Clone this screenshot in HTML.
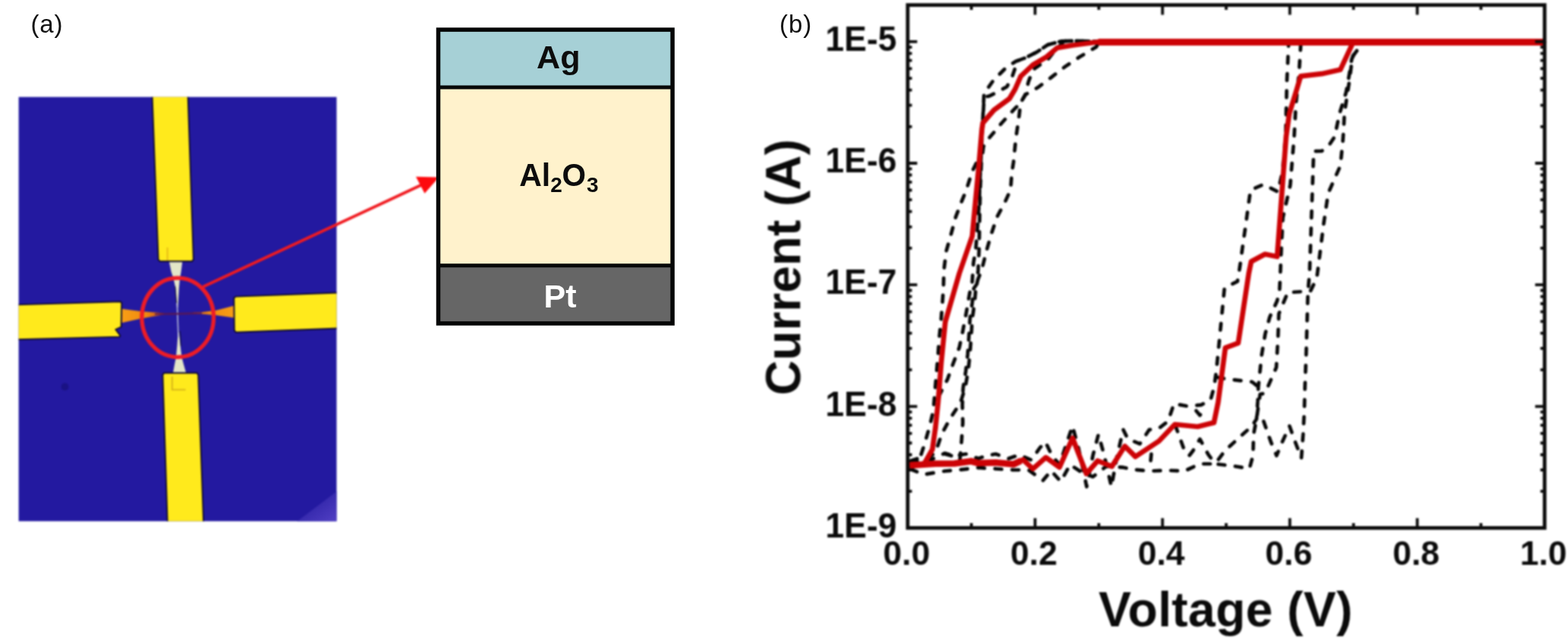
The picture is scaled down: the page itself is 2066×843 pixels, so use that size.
<!DOCTYPE html>
<html lang="en"><head><meta charset="utf-8"><title>Figure</title>
<style>html,body{margin:0;padding:0;background:#fff;}body{width:2066px;height:843px;overflow:hidden;}svg{display:block;}text{font-family:"Liberation Sans",Arial,Helvetica,sans-serif;}.b{font-weight:bold;}</style></head><body>
<svg width="2066" height="843" viewBox="0 0 2066 843">
<defs>
<filter id="bl1" x="-5%" y="-5%" width="110%" height="110%" color-interpolation-filters="sRGB"><feGaussianBlur stdDeviation="0.6"/></filter>
<filter id="bl2" x="-5%" y="-5%" width="110%" height="110%" color-interpolation-filters="sRGB"><feGaussianBlur stdDeviation="0.9"/></filter>
<filter id="bl4" x="-5%" y="-5%" width="110%" height="110%" color-interpolation-filters="sRGB"><feGaussianBlur stdDeviation="0.6"/></filter>
<filter id="bl5" x="-5%" y="-5%" width="110%" height="110%" color-interpolation-filters="sRGB"><feGaussianBlur stdDeviation="0.8"/></filter>
<filter id="bl3" x="-20%" y="-20%" width="140%" height="140%" color-interpolation-filters="sRGB"><feGaussianBlur stdDeviation="2.5"/></filter>
<clipPath id="pc"><rect x="24.6" y="127.8" width="418.9" height="558.6"/></clipPath>
<linearGradient id="wl" x1="0" x2="1" y1="0" y2="0"><stop offset="0" stop-color="#f8a016"/><stop offset="0.6" stop-color="#f08a10"/><stop offset="0.85" stop-color="#d0601a"/><stop offset="1" stop-color="#8a2a3a"/></linearGradient>
<linearGradient id="wr" x1="1" x2="0" y1="0" y2="0"><stop offset="0" stop-color="#f8a016"/><stop offset="0.6" stop-color="#f08a10"/><stop offset="0.85" stop-color="#d0601a"/><stop offset="1" stop-color="#8a2a3a"/></linearGradient>
<linearGradient id="cg" x1="0" x2="1" y1="0" y2="1"><stop offset="0.3" stop-color="#2d22a6"/><stop offset="1" stop-color="#5240c4"/></linearGradient>
</defs>
<rect width="2066" height="843" fill="#ffffff"/>
<text x="40.4" y="43" font-size="33" letter-spacing="0.9" fill="#111">(a)</text>
<text x="1027" y="43" font-size="33" letter-spacing="0.9" fill="#111">(b)</text>
<g filter="url(#bl5)">
<g clip-path="url(#pc)">
<rect x="20" y="120" width="430" height="575" fill="#2319a0"/>
<g filter="url(#bl1)">
<polygon points="391,687 444,647 444,687" fill="url(#cg)"/>
<circle cx="85.5" cy="509.5" r="5" fill="#1a1284" />
<polygon points="222.5,343 240.5,343 238.6,358 237,367 235.8,380 234.4,405 233,405 231.4,380 228.6,367 225.6,358" fill="#e3e6c8"/>
<polygon points="227.8,492 245.4,492 242,480 239.4,470 237.6,455 235.8,438 234.6,438 233.4,455 232,470 230,480" fill="#e3e6c8"/>
<line x1="233.4" y1="400" x2="235" y2="444" stroke="#b9bcd8" stroke-width="1.6"/>
<polygon points="158,406.6 158,425.8 185,419.8 205,416.2 216,414.6 216,412.6 205,411.6 185,410" fill="url(#wl)"/>
<polygon points="310,402.3 310,418.8 285,415.2 265,413.6 254,413.4 254,411.6 265,411.2 285,408.8" fill="url(#wr)"/>
<path d="M204,413.7 L233,413.4 L266,412.5" stroke="#5a1850" stroke-width="2.6" fill="none" opacity="0.85"/>
<path d="M230.6,377 L232.6,399 M237.2,436 L238.6,456" stroke="#0c0c30" stroke-width="1.3" fill="none" opacity="0.8"/>
<polygon points="200.3,120 247.4,120 254.9,342 252.8,344.3 210.8,344.3 208.6,342" fill="#ffea1c" stroke="#0e0830" stroke-width="1.9" stroke-linejoin="round"/>
<polygon points="214.4,493.6 216.3,491.2 259.3,491.2 261.2,493.6 268.6,700 221,700" fill="#ffea1c" stroke="#0e0830" stroke-width="1.9" stroke-linejoin="round"/>
<polygon points="15,401.6 158.5,397.2 160.3,399 159.7,430.5 152.3,434 158.3,442 157.5,443.6 15,447.4" fill="#ffea1c" stroke="#0e0830" stroke-width="1.9" stroke-linejoin="round"/>
<polygon points="308.3,392.5 310.5,390.6 455,385.2 455,432.2 311,437.7 308.8,435.5" fill="#ffea1c" stroke="#0e0830" stroke-width="1.9" stroke-linejoin="round"/>
<path d="M220.6,326 V343" stroke="#d9a514" stroke-width="1.8" fill="none" opacity="0.75"/>
<path d="M226.8,496 V513.4 H244.5" stroke="#c9a416" stroke-width="1.8" fill="none" opacity="0.8"/>
</g>
</g>
</g>
<g filter="url(#bl5)">
<ellipse cx="234.2" cy="418.2" rx="47.3" ry="52.1" fill="none" stroke="#ee1c25" stroke-width="5.3"/>
<line x1="267.5" y1="377.7" x2="556" y2="243.3" stroke="#f01a20" stroke-width="3.9"/>
<polygon points="578.3,233.4 548,232.7 559.5,254.8" fill="#fd0a0e"/>
</g>
<g filter="url(#bl4)">
<rect x="577.5" y="39.1" width="308.5" height="75.6" fill="#a6d0d6"/>
<rect x="577.5" y="114.7" width="308.5" height="235.4" fill="#fff2cc"/>
<rect x="577.5" y="350.1" width="308.5" height="75.9" fill="#666666"/>
<rect x="577.5" y="39.1" width="308.6" height="386.9" fill="none" stroke="#050606" stroke-width="5.5"/>
<line x1="577.5" y1="114.9" x2="886" y2="114.9" stroke="#070808" stroke-width="5"/>
<line x1="577.5" y1="349.7" x2="886" y2="349.7" stroke="#070808" stroke-width="5"/>
<text class="b" x="735.8" y="89.6" font-size="42.5" text-anchor="middle" fill="#0d0d0d" textLength="57.5" lengthAdjust="spacingAndGlyphs">Ag</text>
<text class="b" font-size="42" fill="#0d0d0d"><tspan x="684.2" y="244.8" textLength="41" lengthAdjust="spacingAndGlyphs">Al</tspan><tspan x="725.2" y="253.2" font-size="27.5" textLength="15.6" lengthAdjust="spacingAndGlyphs">2</tspan><tspan x="740.6" y="244.8" textLength="31.5" lengthAdjust="spacingAndGlyphs">O</tspan><tspan x="773" y="253.2" font-size="27.5" textLength="15.6" lengthAdjust="spacingAndGlyphs">3</tspan></text>
<text class="b" x="738" y="405.2" font-size="42.5" text-anchor="middle" fill="#ffffff" textLength="43" lengthAdjust="spacingAndGlyphs">Pt</text>
</g>
<g filter="url(#bl2)">
<path d="M1198.0,612.0 L1211.0,606.4 L1217.3,587.7 L1225.0,561.3 L1229.7,541.0 L1236.0,467.0 L1237.5,445.3 L1239.8,423.5 L1241.4,403.3 L1243.0,381.0 L1243.7,355.7 L1246.8,330.8 L1253.0,309.0 L1259.3,285.7 L1267.0,265.5 L1273.3,250.0 L1281.0,225.7 L1285.7,216.4 L1290.5,205.0 L1294.5,170.0 L1295.0,155.7 L1296.6,121.6 L1298.1,121.2 L1309.0,105.7 L1326.1,88.6 L1338.5,80.8 L1351.0,76.2 L1366.5,68.4 L1380.5,59.0 L1397.6,54.4 L1413.0,53.8 L1446.3,54.7" fill="none" stroke="#050505" stroke-width="4.7" stroke-dasharray="8.8 13.8" stroke-linecap="round" stroke-linejoin="round"/>
<path d="M1200.0,614.0 L1225.0,609.0 L1232.0,575.0 L1235.0,540.0 L1238.0,520.0 L1248.4,499.7 L1256.2,478.0 L1264.0,457.7 L1268.6,436.0 L1273.3,411.1 L1277.9,384.7 L1281.0,371.0 L1282.6,346.4 L1285.7,327.7 L1287.2,309.0 L1288.8,287.3 L1290.4,262.4 L1291.0,240.0 L1294.0,180.0 L1296.6,128.0 L1304.3,126.2 L1312.0,122.3 L1326.7,114.3 L1334.0,100.0 L1337.4,90.0 L1338.5,80.8 L1351.0,76.2 L1366.5,68.4 L1380.5,59.0 L1397.6,54.4 L1413.0,53.8 L1446.3,54.7" fill="none" stroke="#050505" stroke-width="4.7" stroke-dasharray="8.8 13.8" stroke-linecap="round" stroke-linejoin="round"/>
<path d="M1200.0,610.0 L1225.0,602.0 L1232.8,595.5 L1240.6,572.2 L1251.5,552.0 L1265.5,530.2 L1271.7,511.0 L1275.6,488.8 L1277.9,467.0 L1279.5,445.3 L1281.0,420.4 L1284.1,398.7 L1285.7,380.0 L1288.5,368.0 L1293.5,355.7 L1299.7,330.8 L1305.9,309.0 L1313.7,285.7 L1324.5,265.5 L1331.5,250.0 L1333.1,228.8 L1335.4,213.3 L1338.5,182.2 L1342.4,155.7 L1344.7,135.5 L1351.0,124.7 L1355.0,108.0 L1361.0,92.0 L1372.0,84.0 L1381.0,78.0 L1392.0,64.0 L1400.0,57.0" fill="none" stroke="#050505" stroke-width="4.7" stroke-dasharray="8.8 13.8" stroke-linecap="round" stroke-linejoin="round"/>
<path d="M1245.0,598.0 L1256.0,601.0 L1264.7,606.4 L1267.0,580.0 L1268.6,556.6 L1268.0,533.0 L1269.0,511.0 L1272.5,488.8 L1275.0,467.0 L1276.5,445.3 L1278.0,420.4 L1281.0,398.7 L1283.0,380.0 L1287.2,374.0 L1288.8,355.7 L1290.0,330.0 L1290.5,300.0 L1291.5,250.0 L1293.0,215.0 L1295.8,193.0 L1299.7,186.8 L1304.3,180.6 L1319.9,162.0 L1335.4,144.9 L1344.7,135.5 L1351.0,124.7 L1367.3,115.3 L1384.4,102.5 L1403.6,87.6 L1422.8,74.8 L1444.2,62.0 L1448.0,56.0" fill="none" stroke="#050505" stroke-width="4.7" stroke-dasharray="8.8 13.8" stroke-linecap="round" stroke-linejoin="round"/>
<path d="M1200.0,607.0 L1215.0,602.0 L1228.0,605.0 L1245.0,597.0 L1256.0,600.5 L1273.0,598.0 L1289.0,604.0 L1300.0,600.0 L1312.0,598.0 L1329.0,604.0 L1343.0,599.0 L1359.0,606.0 L1370.0,590.0 L1377.4,582.0 L1386.0,600.0 L1396.0,612.0 L1405.0,585.0 L1413.1,561.3 L1421.0,590.0 L1431.8,641.0 L1440.0,600.0 L1447.3,572.2 L1455.0,600.0 L1464.4,641.0 L1472.0,600.0 L1480.0,566.0 L1486.0,578.0 L1501.8,584.6 L1514.2,566.0 L1526.6,564.4 L1539.0,555.0 L1543.7,541.0 L1546.8,531.8 L1564.0,534.9 L1582.6,533.3 L1595.0,527.0 L1599.7,510.0 L1602.7,488.0 L1606.0,455.0 L1609.0,424.0 L1613.4,379.0 L1630.5,370.7 L1633.7,351.0 L1637.0,327.0 L1641.2,297.5 L1647.6,250.5 L1664.7,243.0 L1683.9,252.6 L1690.0,225.0 L1694.0,180.0 L1694.6,150.0 L1695.6,107.0 L1697.8,60.0" fill="none" stroke="#050505" stroke-width="4.7" stroke-dasharray="8.8 13.8" stroke-linecap="round" stroke-linejoin="round"/>
<path d="M1200.0,618.0 L1217.0,625.0 L1245.0,620.5 L1262.0,619.0 L1289.0,616.0 L1312.0,617.5 L1335.0,619.0 L1355.0,619.0 L1374.3,632.8 L1385.0,620.0 L1397.6,634.3 L1410.0,612.0 L1425.0,622.0 L1440.0,628.0 L1458.0,614.0 L1480.0,615.7 L1495.5,618.8 L1515.7,620.4 L1539.0,619.6 L1560.8,620.4 L1581.0,611.0 L1601.2,611.0 L1613.7,594.0 L1632.3,576.8 L1649.4,561.3 L1655.6,552.0 L1657.2,528.7 L1658.0,509.5 L1662.5,466.8 L1667.0,440.0 L1673.0,417.7 L1682.8,396.3 L1686.0,381.4 L1687.0,360.0 L1688.2,329.5 L1690.3,286.8 L1700.0,244.0 L1705.2,180.0 L1707.4,138.8 L1711.6,96.0 L1713.8,60.0" fill="none" stroke="#050505" stroke-width="4.7" stroke-dasharray="8.8 13.8" stroke-linecap="round" stroke-linejoin="round"/>
<path d="M1517.0,598.0 L1515.7,611.0" fill="none" stroke="#050505" stroke-width="4.7" stroke-dasharray="8.8 13.8" stroke-linecap="round" stroke-linejoin="round"/>
<path d="M1548.4,560.0 L1553.0,572.2 L1560.8,594.0 L1567.0,600.0 L1571.7,594.0 L1581.0,578.4 L1592.0,598.6 L1601.2,611.0 L1626.0,614.0 L1646.3,617.2 L1651.0,600.0 L1651.7,572.2 L1655.6,552.0 L1660.3,519.3 L1666.8,518.0 L1681.7,483.9 L1683.9,445.4 L1685.0,413.4 L1696.7,385.2 L1726.6,383.5 L1735.0,366.4 L1737.3,348.7 L1743.7,297.5 L1750.0,254.7 L1766.0,218.4 L1769.3,186.4 L1770.4,170.9 L1771.4,149.5 L1777.9,106.8 L1782.0,74.7 L1792.8,60.0" fill="none" stroke="#050505" stroke-width="4.7" stroke-dasharray="8.8 13.8" stroke-linecap="round" stroke-linejoin="round"/>
<path d="M1576.0,541.0 L1581.0,547.0 L1586.0,541.0" fill="none" stroke="#050505" stroke-width="4.7" stroke-dasharray="8.8 13.8" stroke-linecap="round" stroke-linejoin="round"/>
<path d="M1604.0,497.0 L1613.4,498.8 L1649.7,503.0 L1658.0,509.5" fill="none" stroke="#050505" stroke-width="4.7" stroke-dasharray="8.8 13.8" stroke-linecap="round" stroke-linejoin="round"/>
<path d="M1665.0,555.0 L1674.3,581.5 L1682.0,600.0 L1689.8,581.5 L1699.1,561.3 L1706.9,583.0 L1714.7,603.3 L1717.0,572.2 L1718.6,541.0 L1719.4,510.0 L1721.0,466.8 L1723.4,383.5 L1725.5,360.0 L1728.7,265.4 L1730.9,199.2 L1741.5,199.0 L1752.0,190.0 L1758.6,180.0 L1765.0,149.5 L1773.6,121.7 L1777.5,100.0 L1781.0,78.0 L1789.0,60.0" fill="none" stroke="#050505" stroke-width="4.7" stroke-dasharray="8.8 13.8" stroke-linecap="round" stroke-linejoin="round"/>
<path d="M1198.5,612.0 L1232.7,610.5 L1257.7,610.5 L1279.5,607.0 L1288.8,610.0 L1312.0,609.0 L1335.4,611.5 L1347.9,605.5 L1361.0,617.6 L1378.0,602.6 L1396.0,615.4 L1413.2,577.0 L1431.4,624.0 L1446.3,607.0 L1465.0,614.4 L1482.0,587.7 L1496.0,601.5 L1527.0,581.0 L1548.0,559.0 L1578.0,562.0 L1599.5,556.7 L1605.0,530.0 L1614.5,458.2 L1631.5,451.8 L1645.4,360.0 L1648.6,344.5 L1666.8,334.8 L1682.8,338.0 L1688.2,265.4 L1694.6,180.0 L1698.8,149.5 L1707.4,121.7 L1713.8,100.4 L1741.5,97.2 L1766.0,91.8 L1782.0,57.7 L1784.0,55.2" fill="none" stroke="#cc0205" stroke-width="6.7" stroke-linejoin="round" stroke-linecap="butt"/>
<path d="M1198.5,614.5 L1218.0,610.5 L1228.5,592.0 L1232.7,562.0 L1236.0,530.0 L1240.2,477.5 L1245.5,424.0 L1264.0,360.0 L1281.0,311.0 L1289.3,222.7 L1293.8,170.0 L1295.0,162.0 L1309.6,145.0 L1330.0,130.0 L1337.5,117.5 L1345.0,100.4 L1361.0,85.4 L1379.0,74.8 L1393.0,63.0 L1414.0,59.5 L1446.5,55.2 L2035.0,55.2" fill="none" stroke="#cc0205" stroke-width="6.7" stroke-linejoin="round" stroke-linecap="butt"/>
<path d="M1449,55.5 H2033" fill="none" stroke="#cc0205" stroke-width="8.8" stroke-linecap="round"/>
<path d="M1198.5,613.0 L1232.7,610.8 L1257.7,610.5 L1279.5,607.5 L1288.8,610.0 L1312.0,609.3 L1335.4,611.5 L1345.0,607.0" fill="none" stroke="#cc0205" stroke-width="8.6" stroke-linejoin="round"/>
<rect x="1196.0" y="6.6" width="839.2" height="688.8" fill="none" stroke="#0a0a0a" stroke-width="4.8"/>
<path d="M1279.9,695.4 v-6.5 M1279.9,6.6 v6.5 M1363.8,695.4 v-13.0 M1363.8,6.6 v13.0 M1447.8,695.4 v-6.5 M1447.8,6.6 v6.5 M1531.7,695.4 v-13.0 M1531.7,6.6 v13.0 M1615.6,695.4 v-6.5 M1615.6,6.6 v6.5 M1699.5,695.4 v-13.0 M1699.5,6.6 v13.0 M1783.4,695.4 v-6.5 M1783.4,6.6 v6.5 M1867.4,695.4 v-13.0 M1867.4,6.6 v13.0 M1951.3,695.4 v-6.5 M1951.3,6.6 v6.5 M1196.0,647.2 h5.6 M2035.2,647.2 h-5.6 M1196.0,619.0 h5.6 M2035.2,619.0 h-5.6 M1196.0,599.0 h5.6 M2035.2,599.0 h-5.6 M1196.0,583.5 h5.6 M2035.2,583.5 h-5.6 M1196.0,570.8 h5.6 M2035.2,570.8 h-5.6 M1196.0,560.1 h5.6 M2035.2,560.1 h-5.6 M1196.0,550.8 h5.6 M2035.2,550.8 h-5.6 M1196.0,542.6 h5.6 M2035.2,542.6 h-5.6 M1196.0,535.3 h12.5 M2035.2,535.3 h-12.5 M1196.0,487.1 h5.6 M2035.2,487.1 h-5.6 M1196.0,458.9 h5.6 M2035.2,458.9 h-5.6 M1196.0,438.9 h5.6 M2035.2,438.9 h-5.6 M1196.0,423.4 h5.6 M2035.2,423.4 h-5.6 M1196.0,410.7 h5.6 M2035.2,410.7 h-5.6 M1196.0,400.0 h5.6 M2035.2,400.0 h-5.6 M1196.0,390.7 h5.6 M2035.2,390.7 h-5.6 M1196.0,382.5 h5.6 M2035.2,382.5 h-5.6 M1196.0,375.1 h12.5 M2035.2,375.1 h-12.5 M1196.0,326.9 h5.6 M2035.2,326.9 h-5.6 M1196.0,298.8 h5.6 M2035.2,298.8 h-5.6 M1196.0,278.7 h5.6 M2035.2,278.7 h-5.6 M1196.0,263.2 h5.6 M2035.2,263.2 h-5.6 M1196.0,250.5 h5.6 M2035.2,250.5 h-5.6 M1196.0,239.8 h5.6 M2035.2,239.8 h-5.6 M1196.0,230.5 h5.6 M2035.2,230.5 h-5.6 M1196.0,222.4 h5.6 M2035.2,222.4 h-5.6 M1196.0,215.0 h12.5 M2035.2,215.0 h-12.5 M1196.0,166.8 h5.6 M2035.2,166.8 h-5.6 M1196.0,138.6 h5.6 M2035.2,138.6 h-5.6 M1196.0,118.6 h5.6 M2035.2,118.6 h-5.6 M1196.0,103.1 h5.6 M2035.2,103.1 h-5.6 M1196.0,90.4 h5.6 M2035.2,90.4 h-5.6 M1196.0,79.7 h5.6 M2035.2,79.7 h-5.6 M1196.0,70.4 h5.6 M2035.2,70.4 h-5.6 M1196.0,62.2 h5.6 M2035.2,62.2 h-5.6 M1196.0,54.9 h12.5 M2035.2,54.9 h-12.5" fill="none" stroke="#0a0a0a" stroke-width="3.8"/>
<text class="b" x="1181.5" y="707.6" font-size="45.5" text-anchor="end" textLength="94" lengthAdjust="spacingAndGlyphs" fill="#0a0a0a">1E-9</text>
<text class="b" x="1181.5" y="547.5" font-size="45.5" text-anchor="end" textLength="94" lengthAdjust="spacingAndGlyphs" fill="#0a0a0a">1E-8</text>
<text class="b" x="1181.5" y="387.3" font-size="45.5" text-anchor="end" textLength="94" lengthAdjust="spacingAndGlyphs" fill="#0a0a0a">1E-7</text>
<text class="b" x="1181.5" y="227.2" font-size="45.5" text-anchor="end" textLength="94" lengthAdjust="spacingAndGlyphs" fill="#0a0a0a">1E-6</text>
<text class="b" x="1181.5" y="67.1" font-size="45.5" text-anchor="end" textLength="94" lengthAdjust="spacingAndGlyphs" fill="#0a0a0a">1E-5</text>
<text class="b" x="1194.5" y="744" font-size="44.5" text-anchor="middle" fill="#0a0a0a">0.0</text>
<text class="b" x="1362.3" y="744" font-size="44.5" text-anchor="middle" fill="#0a0a0a">0.2</text>
<text class="b" x="1530.2" y="744" font-size="44.5" text-anchor="middle" fill="#0a0a0a">0.4</text>
<text class="b" x="1698.0" y="744" font-size="44.5" text-anchor="middle" fill="#0a0a0a">0.6</text>
<text class="b" x="1865.9" y="744" font-size="44.5" text-anchor="middle" fill="#0a0a0a">0.8</text>
<text class="b" x="2033.7" y="744" font-size="44.5" text-anchor="middle" fill="#0a0a0a">1.0</text>
<text class="b" x="1615" y="824.8" font-size="64.3" letter-spacing="0.35" text-anchor="middle" fill="#0a0a0a">Voltage (V)</text>
<text class="b" transform="translate(1054.3,352) rotate(-90)" font-size="64" text-anchor="middle" fill="#0a0a0a">Current (A)</text>
</g>
</svg>
</body></html>
